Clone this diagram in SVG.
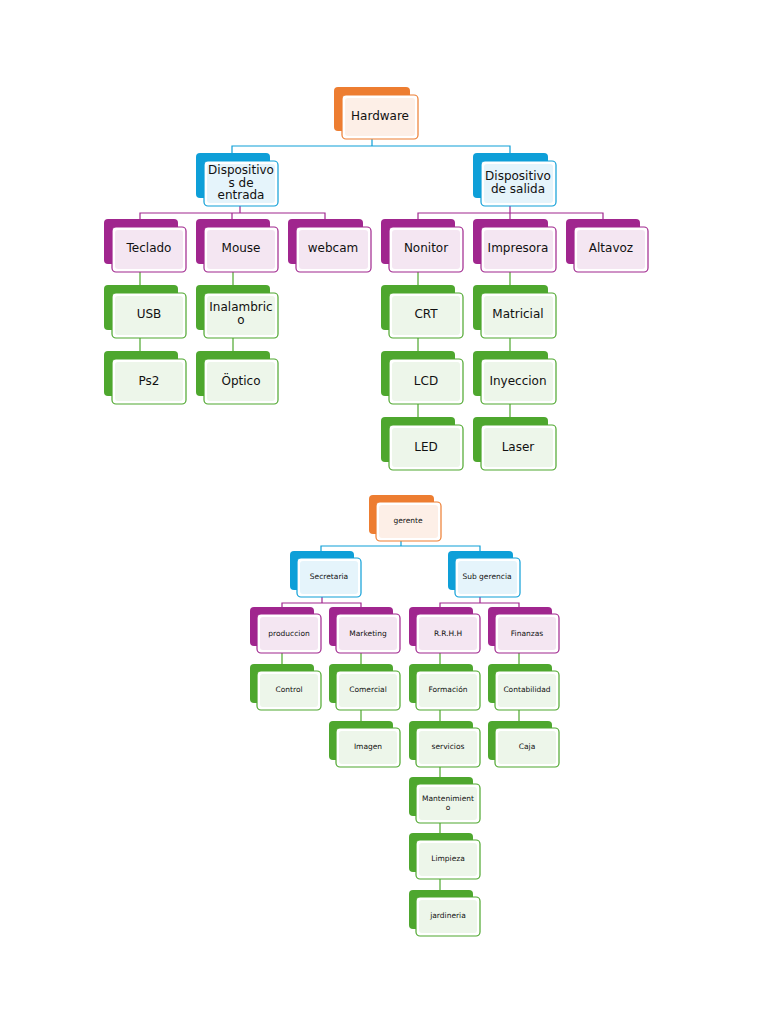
<svg xmlns="http://www.w3.org/2000/svg" width="768" height="1024" viewBox="0 0 768 1024">
<style>
text{font-family:"DejaVu Sans","Liberation Sans",sans-serif;fill:#111;text-anchor:middle}
.t{font-size:12px}.s{font-size:7.5px}
.f{fill:#fff;stroke-width:1.2}
.ob{fill:#ED7D31}.of{stroke:#ED7D31}.oi{fill:#FDEFE7}
.bb{fill:#0E9FD8}.bf{stroke:#0E9FD8}.bi{fill:#E5F4FB}
.pb{fill:#A0268E}.pf{stroke:#A0268E}.pi{fill:#F4E6F2}
.gb{fill:#4EA72E}.gf{stroke:#4EA72E}.gi{fill:#EDF6EA}
.c{fill:none;stroke-width:1.2}
.co{stroke:#0E9FD8}.cp{stroke:#A0268E}.cg{stroke:#4EA72E}
</style>
<g id="connectors">
<path class="c co" d="M372 139V146M232 153V146H510V153"/>
<path class="c cp" d="M240 206V213M140 220V213H325V220M232 213V220"/>
<path class="c cp" d="M510 206V213M418 220V213H603V220M510 213V220"/>
<path class="c cg" d="M140 272V286M140 338V352M233 272V286M233 338V352M418 272V286M418 338V352M418 404V418M510 272V286M510 338V352M510 404V418"/>
<path class="c co" d="M401 541V546M321 551V546H480V551"/>
<path class="c cp" d="M322 597V603M282 607V603H361V607"/>
<path class="c cp" d="M480 597V603M440 607V603H519V607"/>
<path class="c cg" d="M282 653V664M361 653V664M440 653V664M519 653V664M361 710V721M440 710V721M519 710V721M440 767V777M440 823V833M440 879V890"/>
</g>
<g id="hardware"><rect class="ob" x="334" y="87" width="76" height="44" rx="4"/><rect class="f of" x="342" y="95" width="76" height="44" rx="4"/><rect class="oi" x="345" y="98" width="70" height="38" rx="3"/><text class="t" x="380" y="120">Hardware</text></g>
<g id="entrada"><rect class="bb" x="196" y="153" width="74" height="45" rx="4"/><rect class="f bf" x="204" y="161" width="74" height="45" rx="4"/><rect class="bi" x="207" y="164" width="68" height="39" rx="3"/><text class="t" x="241" y="174">Dispositivo</text><text class="t" x="241" y="186.5">s de</text><text class="t" x="241" y="199">entrada</text></g>
<g id="salida"><rect class="bb" x="473" y="153" width="75" height="45" rx="4"/><rect class="f bf" x="481" y="161" width="75" height="45" rx="4"/><rect class="bi" x="484" y="164" width="69" height="39" rx="3"/><text class="t" x="518" y="180">Dispositivo</text><text class="t" x="518" y="192.5">de salida</text></g>
<g id="teclado"><rect class="pb" x="104" y="219" width="74" height="45" rx="4"/><rect class="f pf" x="112" y="227" width="74" height="45" rx="4"/><rect class="pi" x="115" y="230" width="68" height="39" rx="3"/><text class="t" x="149" y="252">Teclado</text></g>
<g id="mouse"><rect class="pb" x="196" y="219" width="74" height="45" rx="4"/><rect class="f pf" x="204" y="227" width="74" height="45" rx="4"/><rect class="pi" x="207" y="230" width="68" height="39" rx="3"/><text class="t" x="241" y="252">Mouse</text></g>
<g id="webcam"><rect class="pb" x="288" y="219" width="75" height="45" rx="4"/><rect class="f pf" x="296" y="227" width="75" height="45" rx="4"/><rect class="pi" x="299" y="230" width="69" height="39" rx="3"/><text class="t" x="333" y="252">webcam</text></g>
<g id="nonitor"><rect class="pb" x="381" y="219" width="74" height="45" rx="4"/><rect class="f pf" x="389" y="227" width="74" height="45" rx="4"/><rect class="pi" x="392" y="230" width="68" height="39" rx="3"/><text class="t" x="426" y="252">Nonitor</text></g>
<g id="impresora"><rect class="pb" x="473" y="219" width="75" height="45" rx="4"/><rect class="f pf" x="481" y="227" width="75" height="45" rx="4"/><rect class="pi" x="484" y="230" width="69" height="39" rx="3"/><text class="t" x="518" y="252">Impresora</text></g>
<g id="altavoz"><rect class="pb" x="566" y="219" width="74" height="45" rx="4"/><rect class="f pf" x="574" y="227" width="74" height="45" rx="4"/><rect class="pi" x="577" y="230" width="68" height="39" rx="3"/><text class="t" x="611" y="252">Altavoz</text></g>
<g id="usb"><rect class="gb" x="104" y="285" width="74" height="45" rx="4"/><rect class="f gf" x="112" y="293" width="74" height="45" rx="4"/><rect class="gi" x="115" y="296" width="68" height="39" rx="3"/><text class="t" x="149" y="318">USB</text></g>
<g id="inalambrico"><rect class="gb" x="196" y="285" width="74" height="45" rx="4"/><rect class="f gf" x="204" y="293" width="74" height="45" rx="4"/><rect class="gi" x="207" y="296" width="68" height="39" rx="3"/><text class="t" x="241" y="311">Inalambric</text><text class="t" x="241" y="324">o</text></g>
<g id="crt"><rect class="gb" x="381" y="285" width="74" height="45" rx="4"/><rect class="f gf" x="389" y="293" width="74" height="45" rx="4"/><rect class="gi" x="392" y="296" width="68" height="39" rx="3"/><text class="t" x="426" y="318">CRT</text></g>
<g id="matricial"><rect class="gb" x="473" y="285" width="75" height="45" rx="4"/><rect class="f gf" x="481" y="293" width="75" height="45" rx="4"/><rect class="gi" x="484" y="296" width="69" height="39" rx="3"/><text class="t" x="518" y="318">Matricial</text></g>
<g id="ps2"><rect class="gb" x="104" y="351" width="74" height="45" rx="4"/><rect class="f gf" x="112" y="359" width="74" height="45" rx="4"/><rect class="gi" x="115" y="362" width="68" height="39" rx="3"/><text class="t" x="149" y="385">Ps2</text></g>
<g id="optico"><rect class="gb" x="196" y="351" width="74" height="45" rx="4"/><rect class="f gf" x="204" y="359" width="74" height="45" rx="4"/><rect class="gi" x="207" y="362" width="68" height="39" rx="3"/><text class="t" x="241" y="385">Öptico</text></g>
<g id="lcd"><rect class="gb" x="381" y="351" width="74" height="45" rx="4"/><rect class="f gf" x="389" y="359" width="74" height="45" rx="4"/><rect class="gi" x="392" y="362" width="68" height="39" rx="3"/><text class="t" x="426" y="385">LCD</text></g>
<g id="inyeccion"><rect class="gb" x="473" y="351" width="75" height="45" rx="4"/><rect class="f gf" x="481" y="359" width="75" height="45" rx="4"/><rect class="gi" x="484" y="362" width="69" height="39" rx="3"/><text class="t" x="518" y="385">Inyeccion</text></g>
<g id="led"><rect class="gb" x="381" y="417" width="74" height="45" rx="4"/><rect class="f gf" x="389" y="425" width="74" height="45" rx="4"/><rect class="gi" x="392" y="428" width="68" height="39" rx="3"/><text class="t" x="426" y="451">LED</text></g>
<g id="laser"><rect class="gb" x="473" y="417" width="75" height="45" rx="4"/><rect class="f gf" x="481" y="425" width="75" height="45" rx="4"/><rect class="gi" x="484" y="428" width="69" height="39" rx="3"/><text class="t" x="518" y="451">Laser</text></g>

<g id="gerente"><rect class="ob" x="369" y="495" width="65" height="39" rx="4"/><rect class="f of" x="376" y="502" width="65" height="39" rx="4"/><rect class="oi" x="379" y="505" width="59" height="33" rx="3"/><text class="s" x="408" y="523">gerente</text></g>
<g id="secretaria"><rect class="bb" x="290" y="551" width="64" height="39" rx="4"/><rect class="f bf" x="297" y="558" width="64" height="39" rx="4"/><rect class="bi" x="300" y="561" width="58" height="33" rx="3"/><text class="s" x="329" y="579">Secretaria</text></g>
<g id="subgerencia"><rect class="bb" x="448" y="551" width="65" height="39" rx="4"/><rect class="f bf" x="455" y="558" width="65" height="39" rx="4"/><rect class="bi" x="458" y="561" width="59" height="33" rx="3"/><text class="s" x="487" y="579">Sub gerencia</text></g>
<g id="produccion"><rect class="pb" x="250" y="607" width="64" height="39" rx="4"/><rect class="f pf" x="257" y="614" width="64" height="39" rx="4"/><rect class="pi" x="260" y="617" width="58" height="33" rx="3"/><text class="s" x="289" y="636">produccion</text></g>
<g id="marketing"><rect class="pb" x="329" y="607" width="64" height="39" rx="4"/><rect class="f pf" x="336" y="614" width="64" height="39" rx="4"/><rect class="pi" x="339" y="617" width="58" height="33" rx="3"/><text class="s" x="368" y="636">Marketing</text></g>
<g id="rrhh"><rect class="pb" x="409" y="607" width="64" height="39" rx="4"/><rect class="f pf" x="416" y="614" width="64" height="39" rx="4"/><rect class="pi" x="419" y="617" width="58" height="33" rx="3"/><text class="s" x="448" y="636">R.R.H.H</text></g>
<g id="finanzas"><rect class="pb" x="488" y="607" width="64" height="39" rx="4"/><rect class="f pf" x="495" y="614" width="64" height="39" rx="4"/><rect class="pi" x="498" y="617" width="58" height="33" rx="3"/><text class="s" x="527" y="636">Finanzas</text></g>
<g id="control"><rect class="gb" x="250" y="664" width="64" height="39" rx="4"/><rect class="f gf" x="257" y="671" width="64" height="39" rx="4"/><rect class="gi" x="260" y="674" width="58" height="33" rx="3"/><text class="s" x="289" y="692">Control</text></g>
<g id="comercial"><rect class="gb" x="329" y="664" width="64" height="39" rx="4"/><rect class="f gf" x="336" y="671" width="64" height="39" rx="4"/><rect class="gi" x="339" y="674" width="58" height="33" rx="3"/><text class="s" x="368" y="692">Comercial</text></g>
<g id="formacion"><rect class="gb" x="409" y="664" width="64" height="39" rx="4"/><rect class="f gf" x="416" y="671" width="64" height="39" rx="4"/><rect class="gi" x="419" y="674" width="58" height="33" rx="3"/><text class="s" x="448" y="692">Formación</text></g>
<g id="contabilidad"><rect class="gb" x="488" y="664" width="64" height="39" rx="4"/><rect class="f gf" x="495" y="671" width="64" height="39" rx="4"/><rect class="gi" x="498" y="674" width="58" height="33" rx="3"/><text class="s" x="527" y="692">Contabilidad</text></g>
<g id="imagen"><rect class="gb" x="329" y="721" width="64" height="39" rx="4"/><rect class="f gf" x="336" y="728" width="64" height="39" rx="4"/><rect class="gi" x="339" y="731" width="58" height="33" rx="3"/><text class="s" x="368" y="749">Imagen</text></g>
<g id="servicios"><rect class="gb" x="409" y="721" width="64" height="39" rx="4"/><rect class="f gf" x="416" y="728" width="64" height="39" rx="4"/><rect class="gi" x="419" y="731" width="58" height="33" rx="3"/><text class="s" x="448" y="749">servicios</text></g>
<g id="caja"><rect class="gb" x="488" y="721" width="64" height="39" rx="4"/><rect class="f gf" x="495" y="728" width="64" height="39" rx="4"/><rect class="gi" x="498" y="731" width="58" height="33" rx="3"/><text class="s" x="527" y="749">Caja</text></g>
<g id="mantenimiento"><rect class="gb" x="409" y="777" width="64" height="39" rx="4"/><rect class="f gf" x="416" y="784" width="64" height="39" rx="4"/><rect class="gi" x="419" y="787" width="58" height="33" rx="3"/><text class="s" x="448" y="801">Mantenimient</text><text class="s" x="448" y="810">o</text></g>
<g id="limpieza"><rect class="gb" x="409" y="833" width="64" height="39" rx="4"/><rect class="f gf" x="416" y="840" width="64" height="39" rx="4"/><rect class="gi" x="419" y="843" width="58" height="33" rx="3"/><text class="s" x="448" y="861">Limpieza</text></g>
<g id="jardineria"><rect class="gb" x="409" y="890" width="64" height="39" rx="4"/><rect class="f gf" x="416" y="897" width="64" height="39" rx="4"/><rect class="gi" x="419" y="900" width="58" height="33" rx="3"/><text class="s" x="448" y="918">jardineria</text></g>
</svg>
